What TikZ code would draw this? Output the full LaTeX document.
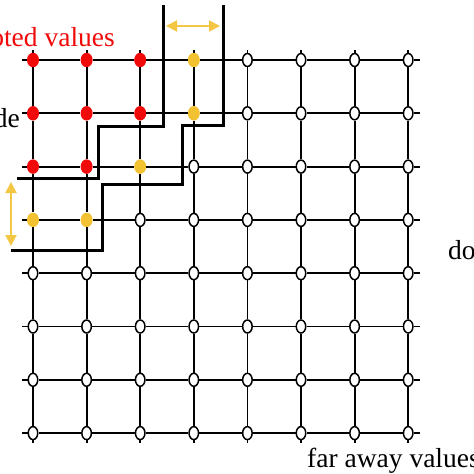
\documentclass[tikz,border=0pt]{standalone}
\usepackage{fontspec}
\setmainfont{Liberation Serif}
\usetikzlibrary{arrows.meta,shapes.geometric}
\definecolor{myred}{HTML}{F00A0A}
\definecolor{myyel}{HTML}{F2C233}
\definecolor{arryel}{HTML}{F3C743}
\tikzset{
  opennode/.style={ellipse, draw=black, line width=1.5pt, fill=white, minimum width=9.5pt, minimum height=13pt, inner sep=0pt},
  rednode/.style={ellipse, draw=none, fill=myred, minimum width=12pt, minimum height=14.5pt, inner sep=0pt},
  yelnode/.style={ellipse, draw=none, fill=myyel, minimum width=12pt, minimum height=14.5pt, inner sep=0pt},
  gridline/.style={draw=black, line width=1.8pt},
  thickline/.style={draw=black, line width=3pt},
  yarrow/.style={draw=arryel, line width=2pt, {Triangle[length=11pt,width=11pt]}-{Triangle[length=11pt,width=11pt]}},
  lbl/.style={inner sep=0pt, font=\fontsize{27.5}{32}\selectfont}
}
\begin{document}
\begin{tikzpicture}[x=1pt,y=-1pt]
\useasboundingbox (0,0) rectangle (474,474);
\clip (0,0) rectangle (474,474);
\fill[white] (0,0) rectangle (474,474);
% nodes
\foreach \j in {0,...,7}{
  \foreach \i in {0,...,7}{
    \pgfmathtruncatemacro\rr{{3,3,2,0,0,0,0,0}[\j]}
    \pgfmathtruncatemacro\yy{{4,4,3,2,0,0,0,0}[\j]}
    \ifnum\i<\rr
      \node[rednode] (n-\i-\j) at ({33+53.6*\i},{60+53.3*\j}) {};
    \else\ifnum\i<\yy
      \node[yelnode] (n-\i-\j) at ({33+53.6*\i},{60+53.3*\j}) {};
    \else
      \node[opennode] (n-\i-\j) at ({33+53.6*\i},{60+53.3*\j}) {};
    \fi\fi
  }
}
% stub coordinates
\foreach \k in {0,...,7}{
  \coordinate (l-\k) at (22,{60+53.3*\k});
  \coordinate (r-\k) at (420,{60+53.3*\k});
  \coordinate (t-\k) at ({33+53.6*\k},50);
  \coordinate (b-\k) at ({33+53.6*\k},443);
  \draw[gridline] (l-\k) -- (n-0-\k);
  \draw[gridline] (n-7-\k) -- (r-\k);
  \draw[gridline] (t-\k) -- (n-\k-0);
  \draw[gridline] (n-\k-7) -- (b-\k);
}
% grid edges
\foreach \a in {0,...,7}{
  \foreach \b in {0,...,6}{
    \pgfmathtruncatemacro\c{\b+1}
    \draw[gridline] (n-\b-\a) -- (n-\c-\a);
    \draw[gridline] (n-\a-\b) -- (n-\a-\c);
  }
}
% staircase boundaries
\draw[thickline] (163,5) -- (163,126) -- (98,126) -- (98,178) -- (17,178);
\draw[thickline] (223,5) -- (223,125) -- (182,125) -- (182,184) -- (102,184) -- (102,250) -- (11,250);
% arrows
\coordinate (ha) at (166,26);
\coordinate (hb) at (220,26);
\coordinate (va) at (11,182);
\coordinate (vb) at (11,246);
\draw[yarrow] (ha) -- (hb);
\draw[yarrow] (va) -- (vb);
% labels
\node[lbl, text=myred, anchor=base east] (t1) at (115,46) {oted values};
\node[lbl, anchor=base east] (t2) at (20,127) {de};
\node[lbl, anchor=base west] (t3) at (448,259) {do};
\node[lbl, anchor=base west] (t4) at (307,467) {far away values};
\end{tikzpicture}
\end{document}
